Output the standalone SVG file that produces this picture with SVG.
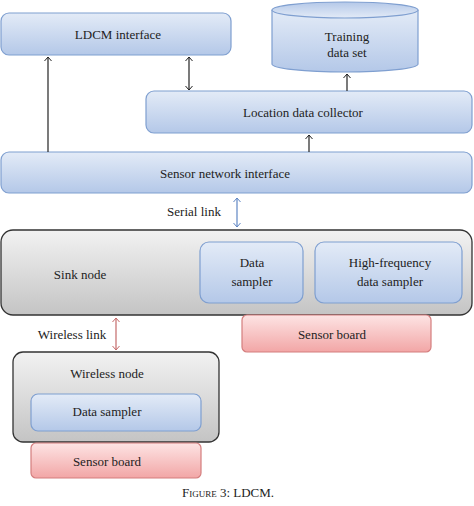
<svg xmlns="http://www.w3.org/2000/svg" width="474" height="506" viewBox="0 0 474 506" font-family="'Liberation Serif','Times New Roman',serif">
<defs>
<linearGradient id="gBlue" x1="0" y1="0" x2="0" y2="1"><stop offset="0" stop-color="#e3ebf7"/><stop offset="1" stop-color="#b4c8e8"/></linearGradient>
<linearGradient id="gGray" x1="0" y1="0" x2="0" y2="1"><stop offset="0" stop-color="#f2f2f2"/><stop offset="1" stop-color="#c4c4c4"/></linearGradient>
<linearGradient id="gPink" x1="0" y1="0" x2="0" y2="1"><stop offset="0" stop-color="#fde4e4"/><stop offset="1" stop-color="#f2a6a6"/></linearGradient>
<linearGradient id="gTop" x1="0" y1="0" x2="0" y2="1"><stop offset="0" stop-color="#b4c8e8"/><stop offset="1" stop-color="#e3ebf7"/></linearGradient>
<marker id="aK" markerWidth="8" markerHeight="8" refX="7.5" refY="4" orient="auto-start-reverse" markerUnits="userSpaceOnUse" viewBox="0 0 8 8"><path d="M3.5,0.5 L7.5,4 L3.5,7.5" fill="none" stroke="#222" stroke-width="1"/></marker>
<marker id="aB" markerWidth="8" markerHeight="8" refX="7.5" refY="4" orient="auto-start-reverse" markerUnits="userSpaceOnUse" viewBox="0 0 8 8"><path d="M3.5,0.5 L7.5,4 L3.5,7.5" fill="none" stroke="#5f86c4" stroke-width="1"/></marker>
<marker id="aR" markerWidth="8" markerHeight="8" refX="7.5" refY="4" orient="auto-start-reverse" markerUnits="userSpaceOnUse" viewBox="0 0 8 8"><path d="M3.5,0.5 L7.5,4 L3.5,7.5" fill="none" stroke="#c46a6a" stroke-width="1"/></marker>
</defs>
<style>
.b{fill:url(#gBlue);stroke:#7f9fd0;stroke-width:1.2}
.g{fill:url(#gGray);stroke:#333;stroke-width:1.3}
.p{fill:url(#gPink);stroke:#d47e7e;stroke-width:1.2}
text{font-family:'Liberation Serif','Times New Roman',serif;font-size:13px;fill:#222;text-anchor:middle}
.k{stroke:#222;stroke-width:1.2;fill:none}
</style>
<rect width="474" height="506" fill="#fff"/>
<g id="ldcm-interface"><rect class="b" x="1" y="13" width="230" height="42" rx="8"/><text x="118" y="39">LDCM interface</text></g>
<g id="training-data-set">
<path class="b" d="M272,10 L272,64 A73,8 0 0 0 418,64 L418,10"/>
<ellipse cx="345" cy="10" rx="73" ry="8" fill="url(#gTop)" stroke="#7f9fd0" stroke-width="1.2"/>
<text x="347" y="41">Training</text><text x="347" y="57">data set</text></g>
<g id="location-data-collector"><rect class="b" x="146" y="91" width="326" height="42" rx="8"/><text x="303" y="117">Location data collector</text></g>
<g id="sensor-network-interface"><rect class="b" x="1" y="152" width="471" height="41" rx="8"/><text x="225" y="178">Sensor network interface</text></g>
<g id="sink-node"><rect class="g" x="1" y="230" width="471" height="85" rx="12"/><text x="80" y="279">Sink node</text></g>
<g id="data-sampler-1"><rect class="b" x="200" y="242" width="103" height="61" rx="9"/><text x="252" y="267">Data</text><text x="252" y="286">sampler</text></g>
<g id="hf-data-sampler"><rect class="b" x="315" y="242" width="147" height="61" rx="9"/><text x="390" y="267">High-frequency</text><text x="390" y="286">data sampler</text></g>
<g id="sensor-board-1"><rect class="p" x="242" y="315" width="189" height="37" rx="5"/><text x="332" y="339">Sensor board</text></g>
<g id="wireless-node"><rect class="g" x="13" y="352" width="206" height="90" rx="10"/><text x="107" y="378">Wireless node</text></g>
<g id="data-sampler-2"><rect class="b" x="31" y="394" width="170" height="37" rx="7"/><text x="107" y="416">Data sampler</text></g>
<g id="sensor-board-2"><rect class="p" x="31" y="443" width="170" height="35" rx="5"/><text x="107" y="466">Sensor board</text></g>
<g id="connectors">
<line class="k" x1="48" y1="152" x2="48" y2="57" marker-end="url(#aK)"/>
<line class="k" x1="189" y1="57" x2="189" y2="90" marker-start="url(#aK)" marker-end="url(#aK)"/>
<line class="k" x1="309" y1="152" x2="309" y2="135" marker-end="url(#aK)"/>
<line class="k" x1="347" y1="91" x2="347" y2="74" marker-end="url(#aK)"/>
<line x1="237" y1="198" x2="237" y2="227" stroke="#5f86c4" stroke-width="1.2" marker-start="url(#aB)" marker-end="url(#aB)"/>
<line x1="116" y1="318" x2="116" y2="350" stroke="#c46a6a" stroke-width="1.2" marker-start="url(#aR)" marker-end="url(#aR)"/>
</g>
<text x="194" y="216">Serial link</text>
<text x="72" y="339">Wireless link</text>
<text x="228" y="497" style="font-variant:small-caps">Figure 3: LDCM.</text>
</svg>
